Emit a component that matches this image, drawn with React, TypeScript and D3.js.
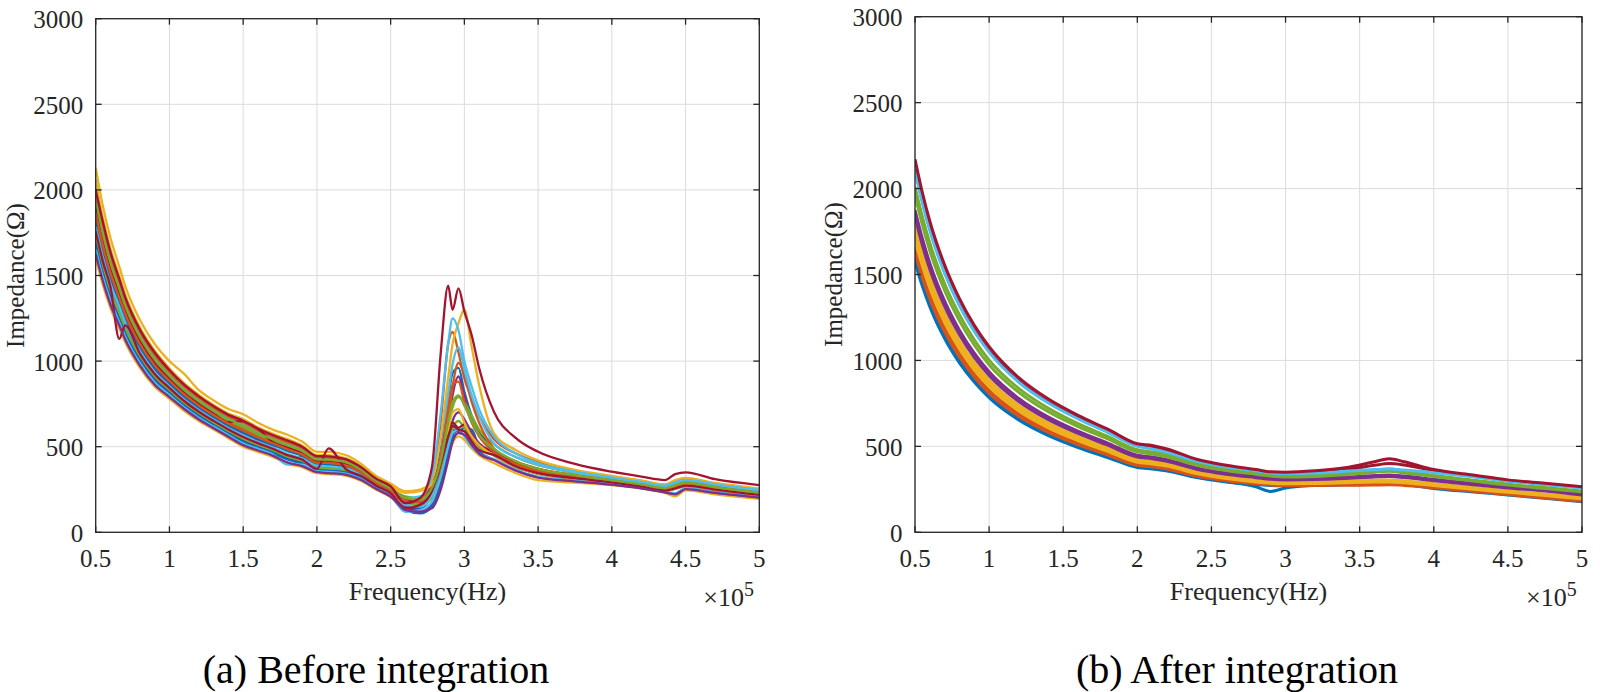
import React from 'react';
import * as d3 from 'd3';

// ---------- Data: (a) Before integration ----------
const FREQ_A = [0.5, 0.55, 0.6, 0.66, 0.7, 0.8, 0.9, 1.0, 1.1, 1.2, 1.3, 1.4, 1.5, 1.6, 1.7, 1.8, 1.9, 2.0, 2.08, 2.2, 2.3, 2.4, 2.5,
  2.6, 2.7, 2.78, 2.84, 2.89, 2.92, 2.96, 3.0, 3.05, 3.1, 3.2, 3.35, 3.5, 3.75, 4.0, 4.2, 4.36, 4.43, 4.5, 4.7, 5.0];

const BEFORE_01 = [1759,1578,1433,1299,1209,1044,925,843,767,704,651,601,557,521,488,451,425,382,379,366,330,274,229, 150,140,230,480,780,930,960,820,680,590, 480,410,368,332,302,278,256,270,288,262,230];
const BEFORE_02 = [1891,1693,1535,1389,1291,1114,987,895,814,749,693,643,604,563,528,493,462,414,411,396,355,294,249, 180,190,300,650,1100,1170,1050,900,780,680, 545,460,410,360,325,300,278,300,315,285,252];
const BEFORE_03 = [2130,1900,1720,1552,1440,1240,1100,1000,925,830,770,720,690,640,600,570,530,470,470,450,400,330,285, 240,250,300,560,900,1100,1220,1300,1080,860, 580,480,420,365,330,303,280,305,318,288,255];
const BEFORE_04 = [1812,1624,1474,1335,1242,1072,950,864,786,722,668,618,576,538,504,430,440,395,392,378,340,282,237, 140,130,170,330,620,800,910,800,660,580, 485,412,370,333,303,279,257,272,290,263,231];
const BEFORE_05 = [1918,1716,1556,1407,1308,1128,1000,906,824,758,702,652,614,572,536,502,470,420,418,402,360,298,253, 210,200,240,380,600,730,790,760,680,600, 515,438,392,348,316,290,268,288,303,276,243];
const BEFORE_06 = [2060,1790,1597,1443,1341,1156,1025,927,843,776,719,669,633,589,552,519,485,432,431,414,370,306,261, 200,210,330,700,1100,1250,1180,1000,850,720, 560,460,403,355,320,294,272,292,306,280,247];
const BEFORE_07 = [2000,1808,1638,1480,1374,1184,1050,948,862,794,736,686,652,606,568,536,500,445,444,426,380,314,269, 170,200,380,1050,1440,1300,1425,1290,1150,960, 705,550,470,400,354,325,305,340,350,310,276];
const BEFORE_08 = [1838,1647,1494,1353,1258,1086,962,874,795,731,676,626,585,546,512,476,447,401,398,384,345,286,241, 160,150,220,380,540,600,590,610,600,500, 448,380,341,312,288,263,241,253,270,246,215];
const BEFORE_09 = [1997,1785,1617,1461,1357,1170,1037,937,852,785,727,677,642,597,560,527,492,439,437,420,375,310,265, 190,170,200,350,650,850,990,920,760,640, 490,415,372,335,305,280,258,275,292,265,233];
const BEFORE_10 = [1600,1440,1310,1190,1110,960,850,780,710,650,600,550,500,470,440,400,380,345,340,330,300,250,205, 140,120,160,280,440,520,560,540,490,450, 405,345,305,290,275,255,230,210,245,222,195];
const BEFORE_11 = [1706,1532,1392,1262,1176,1016,900,822,748,686,634,584,538,504,472,434,410,370,366,354,320,266,221, 150,120,160,300,520,650,700,660,580,520, 468,396,356,323,296,270,248,263,280,255,223];
const BEFORE_12 = [1732,1555,1412,1280,1192,1030,912,832,757,695,642,592,547,512,480,442,417,376,372,360,325,270,225, 170,160,200,320,500,610,650,610,550,500, 450,382,343,314,290,265,243,255,272,248,217];
const BEFORE_13 = [1785,1601,1453,1317,1225,1058,937,853,776,713,659,609,566,529,496,459,432,389,385,372,335,278,233, 160,150,220,450,800,980,1080,950,800,680, 520,440,395,350,318,292,270,290,305,278,245];
const BEFORE_14 = [1891,1693,1535,1389,1291,1114,987,895,814,749,693,643,650,605,528,493,462,414,411,396,355,294,249, 200,180,270,420,600,640,610,630,560,510, 470,400,360,326,299,273,251,266,283,258,226];
const BEFORE_15 = [1680,1509,1371,1244,1160,1002,887,811,738,677,625,575,528,495,464,425,402,364,359,348,315,262,217, 130,110,150,270,450,560,600,590,520,470, 425,362,322,300,280,258,235,225,255,232,205];
const BEFORE_16 = [1865,1670,1515,1371,1275,1100,975,885,805,740,685,635,595,555,520,485,455,407,405,390,350,290,245, 170,180,250,450,720,860,880,760,640,560, 470,398,358,325,298,272,250,265,282,257,225];
const BEFORE_17 = [2050,1831,1658,1498,1390,1198,1062,958,871,803,744,694,661,614,576,544,507,451,450,432,385,318,273, 230,240,280,400,600,700,720,640,560,510, 450,382,343,314,290,265,243,255,272,248,217];
const BEFORE_18 = [1653,1486,1351,1226,1143,988,875,801,729,668,617,567,519,487,456,395,395,357,353,342,310,258,213, 120,130,180,330,500,580,600,560,500,460, 428,364,324,301,281,259,236,228,257,233,206];
const BEFORE_19 = [1759,1578,1433,1130,1209,1044,925,843,767,704,651,601,557,521,488,451,425,370,490,366,330,274,229, 140,160,240,400,560,620,600,590,530,480, 452,384,345,316,291,266,244,256,273,249,218];
const BEFORE_20 = [1944,1739,1576,1425,1324,1142,1012,916,833,767,710,660,623,580,544,510,477,426,424,408,365,302,257, 200,190,260,420,640,760,800,740,650,570, 488,414,371,334,304,280,258,274,291,264,232];
const BEFORE_21 = [1626,1463,1330,1208,1126,974,862,790,720,659,608,558,509,478,448,408,387,351,346,336,305,254,209, 130,120,140,250,420,530,580,570,510,460, 422,360,320,298,278,256,233,222,252,230,203];

const SERIES_A = [BEFORE_01, BEFORE_02, BEFORE_03, BEFORE_04, BEFORE_05, BEFORE_06, BEFORE_08, BEFORE_09, BEFORE_10, BEFORE_11,
  BEFORE_12, BEFORE_13, BEFORE_14, BEFORE_15, BEFORE_16, BEFORE_17, BEFORE_18, BEFORE_19, BEFORE_20, BEFORE_21, BEFORE_07];

// ---------- Data: (b) After integration ----------
const FREQ_B = [0.5, 0.55, 0.6, 0.7, 0.8, 0.9, 1.0, 1.2, 1.4, 1.6, 1.8, 2.0, 2.1, 2.2, 2.4, 2.6, 2.8, 2.9, 3.0, 3.2, 3.4, 3.6, 3.7, 3.8, 4.0, 4.25, 4.5, 4.75, 5.0];

const AFTER_R1 = [2170,1975,1810,1555,1360,1205,1080,900,775,680,600,515,505,485,425,390,365,352,350,358,375,410,428,410,365,335,305,285,265];
const AFTER_R2 = [2110,1925,1765,1515,1325,1175,1055,880,757,665,585,505,495,470,418,385,360,348,345,350,362,390,400,392,358,330,300,280,262];
const AFTER_LB = [2105,1915,1755,1508,1318,1168,1048,873,752,660,582,500,485,465,413,380,357,345,342,345,355,365,368,362,347,325,297,278,258];
const AFTER_G1 = [2010,1835,1683,1446,1265,1120,1002,837,721,632,558,480,468,452,400,368,345,335,328,332,342,362,368,358,330,305,280,260,240];
const AFTER_G2 = [1960,1787,1638,1407,1231,1090,975,815,701,615,543,468,456,440,390,360,338,328,322,325,335,350,355,345,325,300,275,255,236];
const AFTER_P1 = [1875,1708,1566,1345,1176,1042,934,779,670,588,519,448,438,423,375,345,325,315,312,314,320,330,333,327,308,285,265,246,222];
const AFTER_P2 = [1835,1669,1530,1314,1149,1018,913,761,655,575,507,438,428,413,367,338,318,308,305,307,313,322,325,319,300,278,258,240,217];
const AFTER_Y1 = [1780,1620,1484,1275,1115,988,886,738,636,558,492,425,415,400,355,325,303,295,292,293,298,303,305,300,282,262,242,222,203];
const AFTER_Y2 = [1740,1580,1448,1244,1088,964,864,720,620,544,480,415,405,392,348,318,297,290,287,288,292,297,298,293,277,257,237,218,198];
const AFTER_Y3 = [1700,1550,1421,1221,1068,946,848,707,608,534,471,407,398,385,342,313,293,286,283,284,288,292,293,288,272,252,233,214,195];
const AFTER_O1 = [1660,1511,1385,1190,1040,922,826,689,593,520,459,397,388,375,333,305,287,280,277,278,280,282,282,279,265,245,226,205,185];
const AFTER_O2 = [1630,1481,1358,1166,1020,904,810,675,581,510,450,390,381,368,327,300,282,275,272,272,274,275,276,273,259,240,220,200,180];
const AFTER_B1 = [1590,1452,1330,1143,1000,886,794,662,570,500,441,382,373,362,322,296,265,238,258,275,283,286,285,280,255,236,217,198,178];
const AFTER_B2 = [1570,1432,1313,1127,986,874,783,653,562,493,435,377,368,357,318,292,278,272,270,272,276,280,281,277,262,242,222,202,182];

const SERIES_B = [AFTER_B2, AFTER_B1, AFTER_O2, AFTER_O1, AFTER_Y3, AFTER_Y2, AFTER_Y1, AFTER_P2, AFTER_P1, AFTER_G2, AFTER_G1, AFTER_R2, AFTER_LB, AFTER_R1];

// ---------- Axis ticks / labels ----------
const X_TICKS = [0.5, 1, 1.5, 2, 2.5, 3, 3.5, 4, 4.5, 5];
const Y_TICKS = [0, 500, 1000, 1500, 2000, 2500, 3000];
const X_LABEL = 'Frequency(Hz)';
const Y_LABEL = 'Impedance(Ω)';
const CAPTIONS = ['(a) Before integration', '(b) After integration'];

// ---------- Styles ----------
const C = { blue: '#0072BD', orange: '#D95319', yellow: '#EDB120', purple: '#7E2F8E', green: '#77AC30', lblue: '#4DBEEE', red: '#A2142F' };
const COLORS_A = [C.blue, C.orange, C.yellow, C.purple, C.green, C.lblue, C.blue, C.orange, C.yellow, C.purple,
  C.green, C.lblue, C.red, C.blue, C.orange, C.yellow, C.lblue, C.red, C.green, C.purple, C.red];
const COLORS_B = [C.blue, C.blue, C.orange, C.orange, C.yellow, C.yellow, C.yellow, C.purple, C.purple, C.green, C.green, C.red, C.lblue, C.red];

const FONT = "'Liberation Serif', 'Times New Roman', serif";
const AXIS_COLOR = '#262626';

type PanelProps = {
  id: string; x0: number; x1: number; yTop: number; yBot: number;
  freq: number[]; series: number[][]; colors: string[]; lw: number;
  yLabelX: number;
};

function Panel({ id, x0, x1, yTop, yBot, freq, series, colors, lw, yLabelX }: PanelProps) {
  const xs = d3.scaleLinear().domain([0.5, 5]).range([x0, x1]);
  const ys = d3.scaleLinear().domain([0, 3000]).range([yBot, yTop]);
  const line = d3.line<number>().x((_, i) => xs(freq[i])).y((d) => ys(d)).curve(d3.curveMonotoneX);
  const tl = 6;
  return (
    <g>
      <defs>
        <clipPath id={id}><rect x={x0} y={yTop} width={x1 - x0} height={yBot - yTop} /></clipPath>
      </defs>
      {X_TICKS.map((t) => (
        <line key={'gx' + t} x1={xs(t)} x2={xs(t)} y1={yTop} y2={yBot} stroke="#dcdcdc" strokeWidth={1} />
      ))}
      {Y_TICKS.map((t) => (
        <line key={'gy' + t} x1={x0} x2={x1} y1={ys(t)} y2={ys(t)} stroke="#dcdcdc" strokeWidth={1} />
      ))}
      <g clipPath={`url(#${id})`}>
        {series.map((s, i) => (
          <path key={i} d={line(s) || ''} fill="none" stroke={colors[i]} strokeWidth={lw} strokeLinejoin="round" />
        ))}
      </g>
      <rect x={x0} y={yTop} width={x1 - x0} height={yBot - yTop} fill="none" stroke={AXIS_COLOR} strokeWidth={1.3} />
      {X_TICKS.map((t) => (
        <g key={'tx' + t}>
          <line x1={xs(t)} x2={xs(t)} y1={yBot} y2={yBot - tl} stroke={AXIS_COLOR} strokeWidth={1.3} />
          <line x1={xs(t)} x2={xs(t)} y1={yTop} y2={yTop + tl} stroke={AXIS_COLOR} strokeWidth={1.3} />
          <text x={xs(t)} y={yBot + 34.5} textAnchor="middle" fontFamily={FONT} fontSize={25} fill={AXIS_COLOR}>{String(t)}</text>
        </g>
      ))}
      {Y_TICKS.map((t) => (
        <g key={'ty' + t}>
          <line x1={x0} x2={x0 + tl} y1={ys(t)} y2={ys(t)} stroke={AXIS_COLOR} strokeWidth={1.3} />
          <line x1={x1} x2={x1 - tl} y1={ys(t)} y2={ys(t)} stroke={AXIS_COLOR} strokeWidth={1.3} />
          <text x={x0 - 12.5} y={ys(t) + 9.5} textAnchor="end" fontFamily={FONT} fontSize={25} fill={AXIS_COLOR}>{String(t)}</text>
        </g>
      ))}
      <text x={(x0 + x1) / 2} y={600} textAnchor="middle" fontFamily={FONT} fontSize={26} fill={AXIS_COLOR}>{X_LABEL}</text>
      <text transform={`translate(${yLabelX},${(yTop + yBot) / 2}) rotate(-90)`} textAnchor="middle" fontFamily={FONT} fontSize={25} fill={AXIS_COLOR}>{Y_LABEL}</text>
      <text x={x1 - 56} y={606} fontFamily={FONT} fontSize={26} fill={AXIS_COLOR}>
        ×10<tspan dy={-10} fontSize={20}>5</tspan>
      </text>
    </g>
  );
}

export default function App() {
  return (
    <svg width={1600} height={692} style={{ position: 'absolute', left: 0, top: 0, display: 'block', background: '#fff' }}>
      <rect x={0} y={0} width={1600} height={692} fill="#fff" />
      <Panel id="clipA" x0={95.7} x1={759.3} yTop={18.7} yBot={532.3} freq={FREQ_A} series={SERIES_A} colors={COLORS_A} lw={2.3} yLabelX={24} />
      <Panel id="clipB" x0={915} x1={1582} yTop={16.7} yBot={532.3} freq={FREQ_B} series={SERIES_B} colors={COLORS_B} lw={3} yLabelX={842} />
      <text x={376} y={683} textAnchor="middle" fontFamily={FONT} fontSize={40} fill="#000">{CAPTIONS[0]}</text>
      <text x={1237} y={683} textAnchor="middle" fontFamily={FONT} fontSize={40} fill="#000">{CAPTIONS[1]}</text>
    </svg>
  );
}
